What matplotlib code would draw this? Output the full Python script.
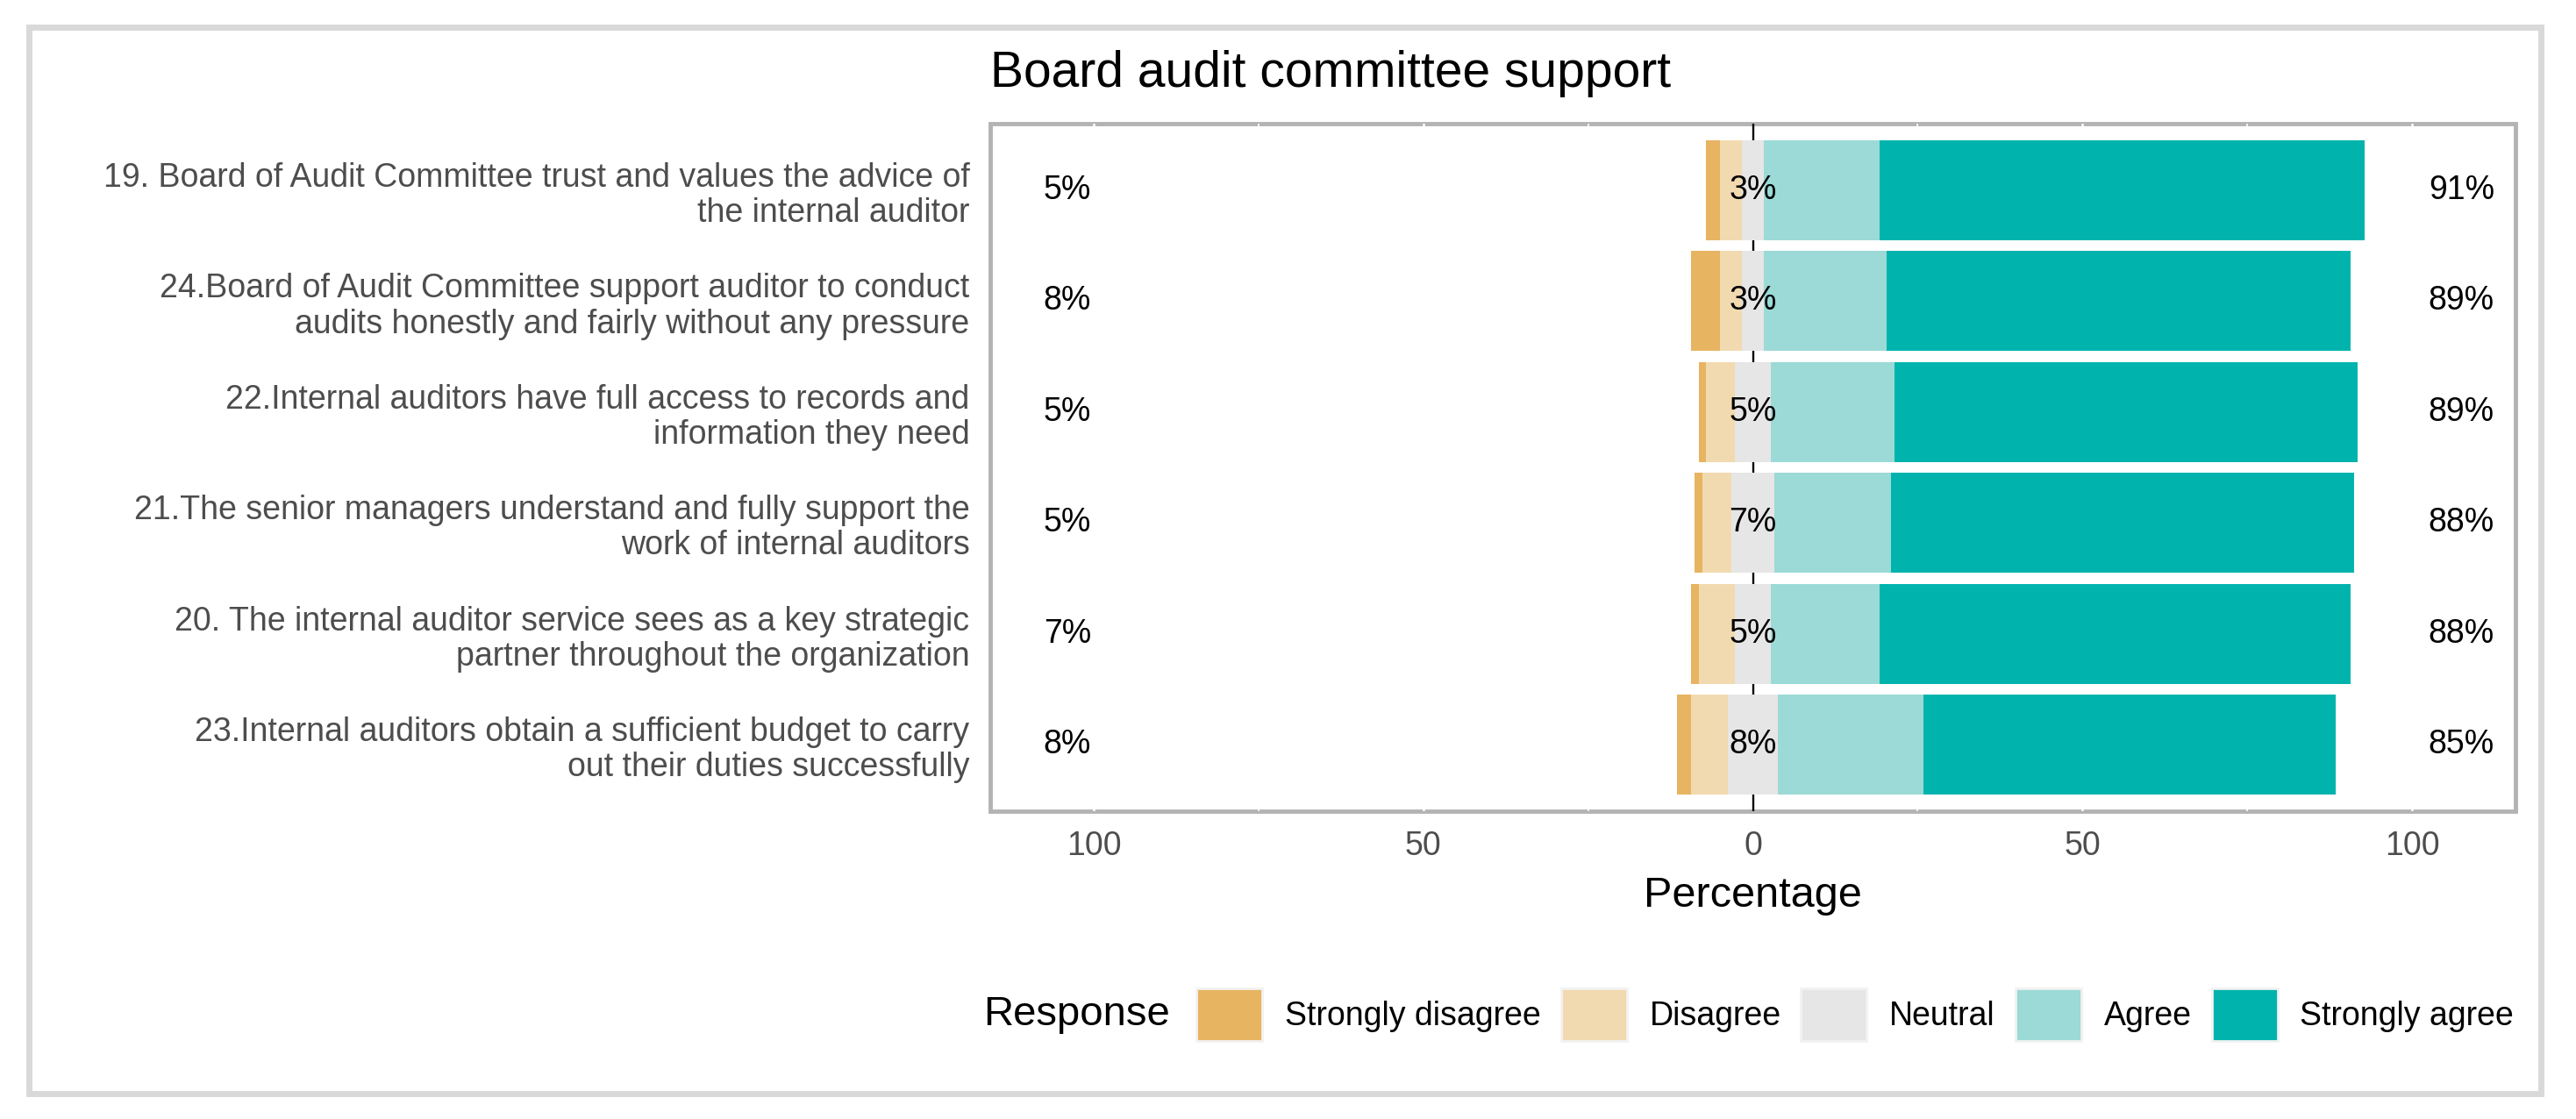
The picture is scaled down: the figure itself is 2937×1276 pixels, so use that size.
import matplotlib
matplotlib.use("Agg")
import matplotlib.pyplot as plt
import matplotlib.patches as mpatches
import numpy as np

plt.rcParams['font.family'] = ['Liberation Sans', 'DejaVu Sans']

# ---------------- data (top row first) ----------------
items = [
    "19. Board of Audit Committee trust and values the advice of\nthe internal auditor",
    "24.Board of Audit Committee support auditor to conduct\naudits honestly and fairly without any pressure",
    "22.Internal auditors have full access to records and\ninformation they need",
    "21.The senior managers understand and fully support the\nwork of internal auditors",
    "20. The internal auditor service sees as a key strategic\npartner throughout the organization",
    "23.Internal auditors obtain a sufficient budget to carry\nout their duties successfully",
]
levels = ["Strongly disagree", "Disagree", "Neutral", "Agree", "Strongly agree"]
strongly_disagree = [2.2, 4.4, 1.1, 1.1, 1.1, 2.2]
disagree          = [3.3, 3.3, 4.4, 4.4, 5.5, 5.5]
neutral           = [3.3, 3.3, 5.5, 6.6, 5.5, 7.7]
agree             = [17.6, 18.7, 18.7, 17.6, 16.5, 22.0]
strongly_agree    = [73.6, 70.3, 70.3, 70.3, 71.4, 62.6]
low_labels     = ["5%", "8%", "5%", "5%", "7%", "8%"]
neutral_labels = ["3%", "3%", "5%", "7%", "5%", "8%"]
high_labels    = ["91%", "89%", "89%", "88%", "88%", "85%"]
colors = ["#E7B462", "#F2DAB0", "#E6E6E6", "#9BDAD6", "#00B4AD"]
xticks = [-100, -50, 0, 50, 100]
xtick_labels = ["100", "50", "0", "50", "100"]

# ---------------- figure ----------------
W, H = 2937, 1276
fig = plt.figure(figsize=(W / 100, H / 100), dpi=100)

def fx(px):
    return px / W

def fy(py):
    return 1 - py / H

# outer frame
fig.patches.append(mpatches.Rectangle((fx(33), fy(1247)), fx(2897) - fx(33), fy(31) - fy(1247),
                                      transform=fig.transFigure, fill=False,
                                      edgecolor="#D9D9D9", linewidth=5, zorder=0))

ax_l, ax_r, ax_t, ax_b = 1129, 2868, 141, 925
ax = fig.add_axes([fx(ax_l), fy(ax_b), fx(ax_r) - fx(ax_l), fy(ax_t) - fy(ax_b)])

n = len(items)
ypos = np.arange(n)
sd = np.array(strongly_disagree)
d = np.array(disagree)
nu = np.array(neutral)
a = np.array(agree)
sa = np.array(strongly_agree)

lefts = [-(nu / 2 + d + sd), -(nu / 2 + d), -nu / 2, nu / 2, nu / 2 + a]
widths = [sd, d, nu, a, sa]
for lvl, lft, wd, c in zip(levels, lefts, widths, colors):
    ax.barh(ypos, wd, left=lft, height=0.9, color=c, edgecolor="none", zorder=3, label=lvl)

# zero line
ax.axvline(0, color="black", linewidth=1.7, zorder=2)
# white gridlines (visible only over the panel border)
for gx in [-100, -75, -50, -25, 25, 50, 75, 100]:
    ax.axvline(gx, color="white", linewidth=1.8 if gx % 50 == 0 else 1.2, zorder=1.5)

# labels
for i in range(n):
    ax.text(-104, ypos[i], low_labels[i], ha="center", va="center", fontsize=27, color="black", zorder=4)
    ax.text(107.5, ypos[i], high_labels[i], ha="center", va="center", fontsize=27, color="black", zorder=4)
    ax.text(0, ypos[i], neutral_labels[i], ha="center", va="center", fontsize=27, color="black", zorder=4)

ax.set_xlim(-115.7, 115.7)
ax.set_ylim(n - 0.4, -0.6)
ax.set_xticks(xticks)
ax.set_xticklabels(xtick_labels)
ax.set_yticks(ypos)
ax.set_yticklabels(items, linespacing=1.15)
ax.tick_params(axis="x", length=0, pad=16, labelsize=27, labelcolor="#4D4D4D")
ax.tick_params(axis="y", length=0, pad=17, labelsize=27, labelcolor="#4D4D4D")
for s in ax.spines.values():
    s.set_visible(False)
ax.patch.set_facecolor("white")
ax.add_patch(mpatches.Rectangle((0, 0), 1, 1, transform=ax.transAxes, fill=False,
                                edgecolor="#B3B3B3", linewidth=3.5, zorder=1, clip_on=False))

ax.set_xlabel("Percentage", fontsize=35, color="black")
ax.xaxis.label.set_va("center")
ax.xaxis.set_label_coords(0.5, (ax_b - 1021) / (ax_b - ax_t))

# title
fig.text(fx(1129), fy(84), "Board audit committee support", fontsize=41, ha="left", va="center", color="black")

# legend
handles = [mpatches.Patch(facecolor=c, edgecolor="#F2F2F2", linewidth=2, label=l) for c, l in zip(colors, levels)]
fig.text(fx(1121), fy(1157), "Response", fontsize=34, ha="left", va="center", color="black")
fig.legend(handles=handles, loc="center left", bbox_to_anchor=(fx(1364), fy(1157)), ncol=5,
           frameon=False, fontsize=27, handlelength=2.0, handleheight=2.05, handletextpad=0.69,
           columnspacing=0.61, borderpad=0, borderaxespad=0)

fig.savefig("out.png", dpi=100, facecolor="white")
